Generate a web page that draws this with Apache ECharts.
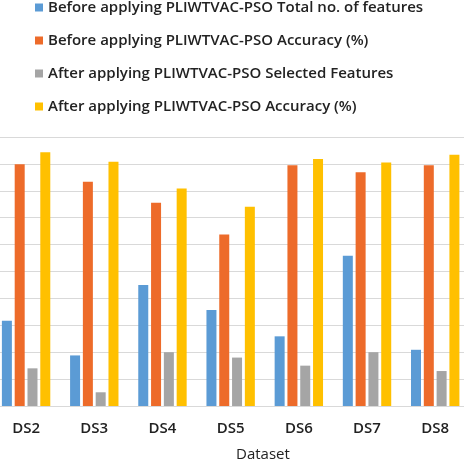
<!DOCTYPE html>
<html>
<head>
<meta charset="utf-8">
<script src="https://cdn.jsdelivr.net/npm/echarts@6/dist/echarts.min.js"></script>
<style>
html, body { margin: 0; padding: 0; background: #fff; overflow: hidden; }
#chart { position: absolute; left: -8px; top: 0; width: 480px; height: 464px; }
</style>
</head>
<body>
<div id="chart"></div>
<script>
var categories = ['DS2', 'DS3', 'DS4', 'DS5', 'DS6', 'DS7', 'DS8'];
var seriesNames = [
	'Before applying PLIWTVAC-PSO Total no. of features',
	'Before applying PLIWTVAC-PSO Accuracy (%)',
	'After applying PLIWTVAC-PSO Selected Features',
	'After applying PLIWTVAC-PSO Accuracy (%)'
];
var totalFeatures = [31.7, 18.8, 45, 35.7, 25.9, 55.9, 20.9];
var accuracyBefore = [89.9, 83.4, 75.6, 63.8, 89.5, 86.9, 89.5];
var selectedFeatures = [14, 5.1, 20, 18, 15, 20, 13];
var accuracyAfter = [94.3, 90.8, 80.9, 74.1, 91.8, 90.5, 93.4];
var colors = ['#5B9BD5', '#ED6B2A', '#A5A5A5', '#FFC000'];

// chart div starts 8px left of the window, so DS1 stays out of view
var chart = echarts.init(document.getElementById('chart'));
var allData = [totalFeatures, accuracyBefore, selectedFeatures, accuracyAfter];
var series = [];
for (var i = 0; i < allData.length; i++) {
	series.push({
		name: seriesNames[i],
		type: 'bar',
		data: allData[i],
		barWidth: 10,
		barGap: '28%',
		itemStyle: { color: colors[i] }
	});
}

chart.setOption({
	animation: false,
	textStyle: { fontFamily: 'Open Sans' },
	color: colors,
	legend: {
		orient: 'vertical',
		left: 38,
		top: 0,
		padding: [0, 5],
		icon: 'rect',
		itemWidth: 8,
		itemHeight: 8,
		itemGap: 18,
		textStyle: { fontSize: 15, fontWeight: 600, color: '#222', fontFamily: 'Open Sans' },
		data: seriesNames
	},
	grid: {
		left: 0,
		right: 2.7,
		top: 137,
		bottom: 58
	},
	xAxis: {
		type: 'category',
		data: categories,
		axisLine: { lineStyle: { color: '#D9D9D9' } },
		axisTick: { show: false },
		axisLabel: { fontSize: 15, fontWeight: 600, color: '#222', margin: 15 }
	},
	yAxis: {
		type: 'value',
		min: 0,
		max: 100,
		interval: 10,
		axisLabel: { show: false },
		axisLine: { show: false },
		splitLine: { lineStyle: { color: '#D9D9D9' } }
	},
	graphic: [{
		type: 'text',
		left: 244,
		top: 447,
		style: { text: 'Dataset', fontSize: 15, fontWeight: 500, fill: '#222', fontFamily: 'Open Sans' }
	}],
	series: series
});
</script>
</body>
</html>
